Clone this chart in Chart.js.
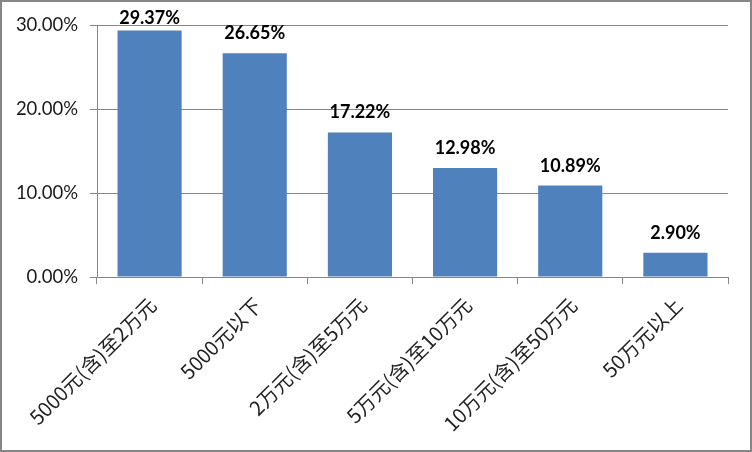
<!DOCTYPE html>
<html>
<head>
<meta charset="utf-8">
<script src="https://cdn.jsdelivr.net/npm/chart.js@4"></script>
<style>
  body { margin: 0; background: #fff; }
  .frame { width: 748px; height: 448px; border: 2px solid #868686; }
</style>
</head>
<body>
<div class="frame"><canvas id="chart" width="748" height="448"></canvas></div>
<script>
const categories = ["5000元(含)至2万元", "5000元以下", "2万元(含)至5万元", "5万元(含)至10万元", "10万元(含)至50万元", "50万元以上"];
const shares = [29.37, 26.65, 17.22, 12.98, 10.89, 2.90];
const yTicks = [0, 10, 20, 30];

const AXIS = "#868686";
const LATIN = "Lato, 'Liberation Sans', sans-serif";

// value labels above each bar, pushed down if they would run off the top
const barLabels = {
  id: "barLabels",
  afterDatasetsDraw(chart) {
    const ctx = chart.ctx;
    ctx.save();
    ctx.font = "bold 18px " + LATIN;
    ctx.fillStyle = "#000";
    ctx.textAlign = "center";
    ctx.textBaseline = "alphabetic";
    chart.getDatasetMeta(0).data.forEach((bar, i) => {
      const { x, y } = bar.getProps(["x", "y"], true);
      ctx.fillText(shares[i].toFixed(2) + "%", x, Math.max(y - 14, 22));
    });
    ctx.restore();
  },
};

new Chart(document.getElementById("chart"), {
  type: "bar",
  data: {
    labels: categories,
    datasets: [{
      data: shares,
      backgroundColor: "#4F81BD",
      categoryPercentage: 0.61,
      barPercentage: 1,
    }],
  },
  options: {
    responsive: false,
    animation: false,
    layout: { padding: { top: 22, right: 22, left: 0, bottom: 0 } },
    plugins: { legend: { display: false }, tooltip: { enabled: false } },
    scales: {
      x: {
        offset: true,
        grid: { offset: true, drawOnChartArea: false, color: AXIS, tickLength: 7 },
        border: { color: AXIS },
        ticks: {
          autoSkip: false,
          maxRotation: 45,
          minRotation: 45,
          padding: 9,
          labelOffset: 3,
          color: "#222",
          font: { family: "'Noto Sans CJK SC', sans-serif", size: 20 },
        },
        afterFit(scale) { scale.height = 173; },
      },
      y: {
        min: 0,
        max: 30,
        afterBuildTicks(scale) { scale.ticks = yTicks.map(v => ({ value: v })); },
        grid: { color: AXIS, tickLength: 7 },
        border: { color: AXIS },
        ticks: {
          padding: 12,
          color: "#1a1a1a",
          font: { family: LATIN, size: 18.5 },
          callback: v => v.toFixed(2) + "%",
        },
        afterFit(scale) { scale.width = 95; },
      },
    },
  },
  plugins: [barLabels],
});
</script>
</body>
</html>
